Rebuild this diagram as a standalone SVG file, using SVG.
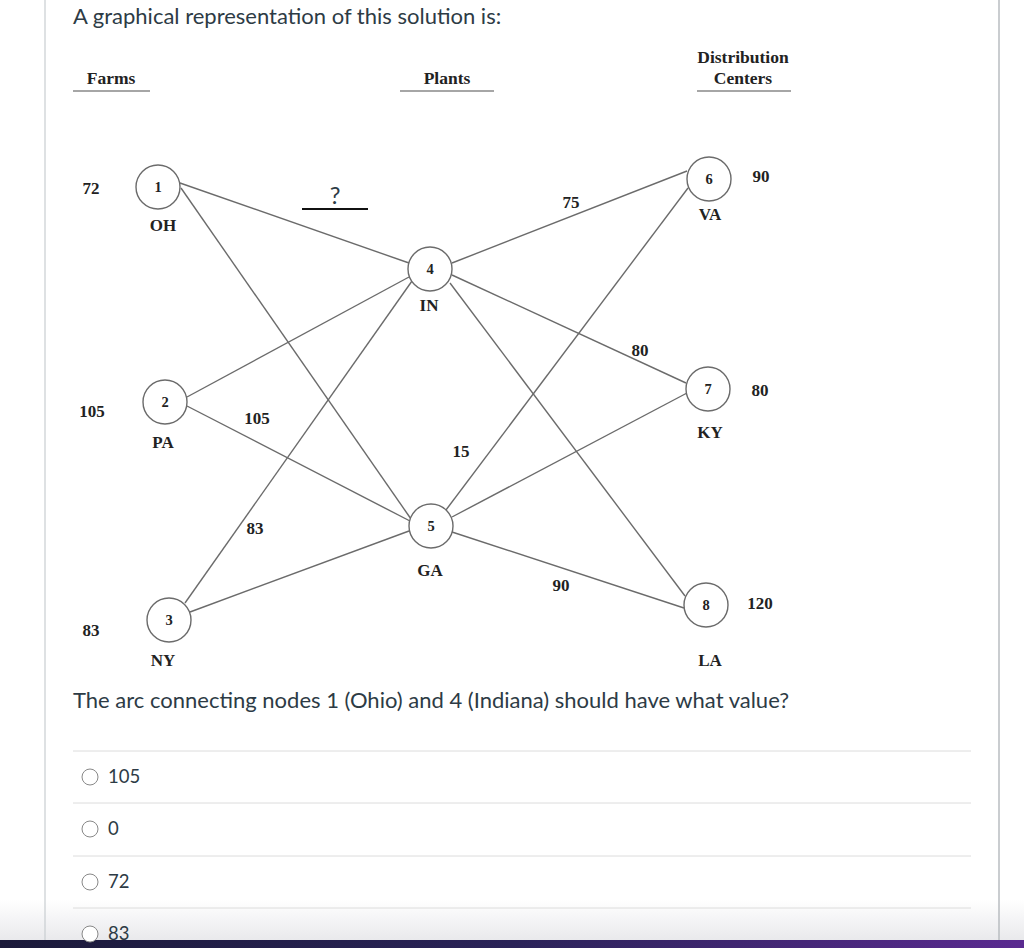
<svg xmlns="http://www.w3.org/2000/svg" width="1024" height="948" viewBox="0 0 1024 948">
<defs>
<style>
.ui{font-family:Lato,"Open Sans","Liberation Sans",sans-serif;fill:#2d3b45}
.t{font-family:"Liberation Serif","DejaVu Serif",serif;font-weight:bold;fill:#222;text-anchor:middle}
.lbl{font-size:17px}
.num{font-size:14.5px}
.hd{font-size:17.5px}
.edge{stroke:#6b6b6b;stroke-width:1.4;fill:none}
.node circle{fill:#fff;stroke:#6b6b6b;stroke-width:1.4}
.sep{stroke:#dcdcdc;stroke-width:1}
.radio{fill:#fff;stroke:#888;stroke-width:1}
.opt{font-family:Lato,"Liberation Sans",sans-serif;font-size:18.5px;fill:#2d3b45}
</style>
<linearGradient id="bot" x1="0" y1="0" x2="0" y2="1">
<stop offset="0" stop-color="#ffffff"/>
<stop offset="1" stop-color="#e9e9ec"/>
</linearGradient>
<linearGradient id="bar" x1="0" y1="0" x2="1" y2="0">
<stop offset="0" stop-color="#1b1a3a"/>
<stop offset="0.5" stop-color="#2a2358"/>
<stop offset="1" stop-color="#5a2a90"/>
</linearGradient>
</defs>
<rect width="1024" height="948" fill="#fff"/>
<rect x="0" y="900" width="1024" height="40" fill="url(#bot)"/>
<line x1="45" y1="0" x2="45" y2="940" stroke="#c8cdd1" stroke-width="1.2"/>
<line x1="999" y1="0" x2="999" y2="940" stroke="#b8bdc1" stroke-width="1.5"/>
<rect x="0" y="940" width="1024" height="8" fill="url(#bar)"/>

<text class="ui" x="73" y="24" font-size="22">A graphical representation of this solution is:</text>

<g id="headers">
<text class="t hd" x="111" y="84">Farms</text>
<line x1="73" y1="91" x2="150" y2="91" stroke="#888" stroke-width="1.5"/>
<text class="t hd" x="447" y="84">Plants</text>
<line x1="400" y1="91" x2="494" y2="91" stroke="#888" stroke-width="1.5"/>
<text class="t hd" x="743" y="63">Distribution</text>
<text class="t hd" x="743" y="84">Centers</text>
<line x1="697" y1="91" x2="791" y2="91" stroke="#888" stroke-width="1.5"/>
</g>

<g id="connectors">
<line class="edge" x1="180" y1="183" x2="409" y2="263"/>
<line class="edge" x1="181" y1="188" x2="411" y2="519"/>
<line class="edge" x1="187" y1="397" x2="409" y2="277"/>
<line class="edge" x1="187" y1="406" x2="410" y2="521"/>
<line class="edge" x1="185" y1="603" x2="412" y2="281"/>
<line class="edge" x1="190" y1="612" x2="409" y2="531"/>
<line class="edge" x1="452" y1="263" x2="687" y2="171"/>
<line class="edge" x1="452" y1="275" x2="686" y2="383"/>
<line class="edge" x1="450" y1="283" x2="685" y2="596"/>
<line class="edge" x1="446" y1="510" x2="688" y2="188"/>
<line class="edge" x1="452" y1="517" x2="687" y2="393"/>
<line class="edge" x1="452" y1="532" x2="684" y2="608"/>
</g>

<g id="edge-labels">
<text class="ui" x="335" y="204" font-size="24" text-anchor="middle" fill="#222">?</text>
<line x1="302" y1="209" x2="368" y2="209" stroke="#111" stroke-width="2"/>
<text class="t lbl" x="571" y="208">75</text>
<text class="t lbl" x="640" y="356">80</text>
<text class="t lbl" x="257" y="424">105</text>
<text class="t lbl" x="461" y="457">15</text>
<text class="t lbl" x="255" y="534">83</text>
<text class="t lbl" x="561" y="591">90</text>
</g>

<g id="supply">
<text class="t lbl" x="91" y="194">72</text>
<text class="t lbl" x="92" y="417">105</text>
<text class="t lbl" x="91" y="636">83</text>
<text class="t lbl" x="761" y="182">90</text>
<text class="t lbl" x="760" y="396">80</text>
<text class="t lbl" x="760" y="609">120</text>
</g>

<g id="node1" class="node"><circle cx="158" cy="187" r="22"/><text class="t num" x="158" y="192">1</text><text class="t lbl" x="163" y="231">OH</text></g>
<g id="node2" class="node"><circle cx="165" cy="402" r="22"/><text class="t num" x="165" y="407">2</text><text class="t lbl" x="163" y="448">PA</text></g>
<g id="node3" class="node"><circle cx="169" cy="620" r="22"/><text class="t num" x="169" y="625">3</text><text class="t lbl" x="163" y="666">NY</text></g>
<g id="node4" class="node"><circle cx="430" cy="269" r="22"/><text class="t num" x="430" y="274">4</text><text class="t lbl" x="429" y="311">IN</text></g>
<g id="node5" class="node"><circle cx="431" cy="526" r="22"/><text class="t num" x="431" y="531">5</text><text class="t lbl" x="430" y="576">GA</text></g>
<g id="node6" class="node"><circle cx="709" cy="179" r="22"/><text class="t num" x="709" y="184">6</text><text class="t lbl" x="710" y="220">VA</text></g>
<g id="node7" class="node"><circle cx="708" cy="389" r="22"/><text class="t num" x="708" y="394">7</text><text class="t lbl" x="710" y="438">KY</text></g>
<g id="node8" class="node"><circle cx="706" cy="605" r="22"/><text class="t num" x="706" y="610">8</text><text class="t lbl" x="710" y="666">LA</text></g>

<text class="ui" x="73" y="708" font-size="22">The arc connecting nodes 1 (Ohio) and 4 (Indiana) should have what value?</text>

<g id="options">
<line class="sep" x1="73" y1="751" x2="971" y2="751"/>
<circle class="radio" cx="90" cy="777" r="8"/><text class="opt" x="108" y="783">105</text>
<line class="sep" x1="73" y1="803" x2="971" y2="803"/>
<circle class="radio" cx="90" cy="829" r="8"/><text class="opt" x="108" y="835">0</text>
<line class="sep" x1="73" y1="856" x2="971" y2="856"/>
<circle class="radio" cx="90" cy="882" r="8"/><text class="opt" x="108" y="888">72</text>
<line class="sep" x1="73" y1="908" x2="971" y2="908"/>
<circle class="radio" cx="90" cy="934" r="8"/><text class="opt" x="108" y="940">83</text>
</g>
</svg>
